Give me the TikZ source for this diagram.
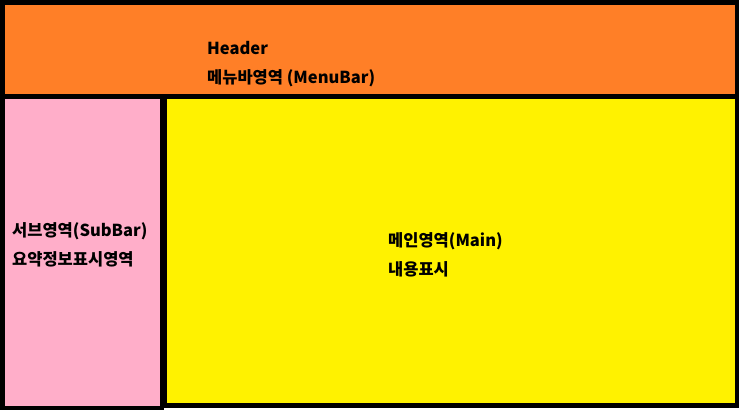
\documentclass[tikz,border=0pt]{standalone}
\usepackage{fontspec}
\setmainfont{Noto Sans CJK KR}
\usepackage{xcolor}
\usetikzlibrary{positioning}
\definecolor{headerorange}{HTML}{FF7F27}
\definecolor{subpink}{HTML}{FFAEC9}
\definecolor{mainyellow}{HTML}{FFF200}
\tikzset{
    area/.style={draw=black, line width=4.5pt},
    areatext/.style={anchor=base west, align=left, inner sep=0pt,
        font=\bfseries\fontsize{16.5}{29.5}\selectfont}
}

\begin{document}
\begin{tikzpicture}[x=1pt, y=-1pt]
    \useasboundingbox (0,0) rectangle (740,415);

    % Header
    \draw[area, fill=headerorange] (2.25,2.25) rectangle (736.75,96);
    \node[areatext] (header) at (207,83.5) {Header\\메뉴바영역 (MenuBar)};

    % Sub bar
    \draw[area, fill=subpink] (2.25,97) rectangle (162,408);
    \node[areatext] (subbar) at (12,265.5) {서브영역(SubBar)\\요약정보표시영역};

    % Main area
    \draw[area, fill=mainyellow] (165,97) rectangle (736.75,405.5);
    \node[areatext] (main) at (388,275.5) {메인영역(Main)\\내용표시};
\end{tikzpicture}
\end{document}
